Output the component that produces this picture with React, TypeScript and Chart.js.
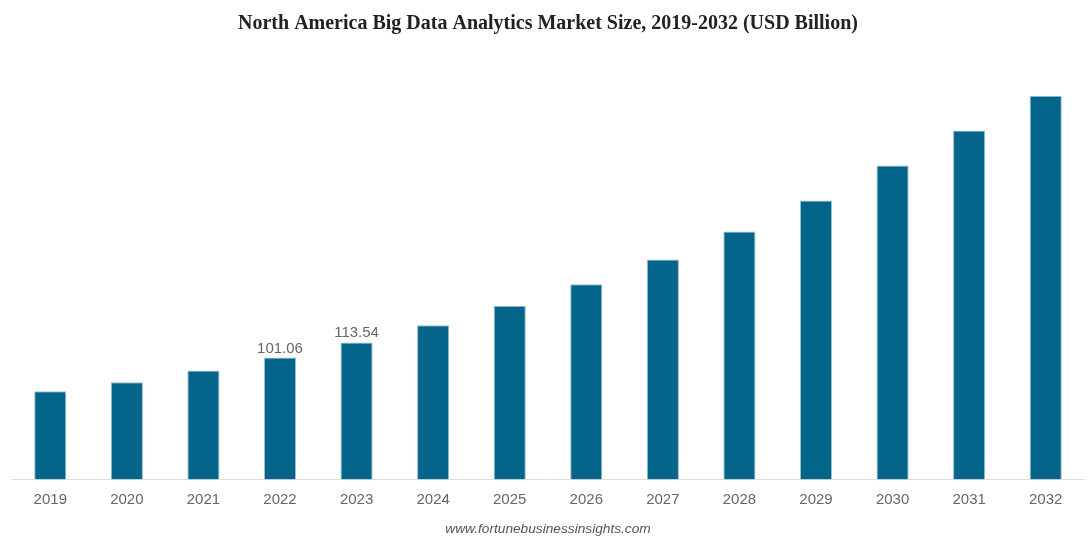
import React, { useEffect, useRef } from "react";
import { Chart, registerables } from "chart.js";

Chart.register(...registerables);

const years = ["2019", "2020", "2021", "2022", "2023", "2024", "2025", "2026", "2027", "2028", "2029", "2030", "2031", "2032"];
const marketSize = [73.2, 80.6, 90.3, 101.06, 113.54, 127.9, 143.9, 161.8, 182.3, 205.5, 231.2, 260.2, 289.2, 317.9];
const labelledYears = ["2022", "2023"];
const titleText = "North America Big Data Analytics Market Size, 2019-2032 (USD Billion)";
const footerText = "www.fortunebusinessinsights.com";

const valueLabels = {
  id: "valueLabels",
  afterDatasetsDraw(chart: any) {
    const ctx = chart.ctx;
    const meta = chart.getDatasetMeta(0);
    ctx.save();
    ctx.font = "15px 'Liberation Sans', Arial, sans-serif";
    ctx.fillStyle = "#666666";
    ctx.textAlign = "center";
    ctx.textBaseline = "alphabetic";
    meta.data.forEach((bar: any, i: number) => {
      if (labelledYears.includes(years[i])) {
        const v = marketSize[i];
        ctx.fillText(v.toFixed(2), bar.x, bar.y - 5);
      }
    });
    ctx.restore();
  },
};

export default function App() {
  const canvasRef = useRef<HTMLCanvasElement | null>(null);

  useEffect(() => {
    document.body.style.margin = "0";
    const canvas = canvasRef.current;
    if (!canvas) return;
    const chart = new Chart(canvas, {
      type: "bar",
      data: {
        labels: years,
        datasets: [
          {
            data: marketSize,
            backgroundColor: "#05648a",
            borderColor: "#9cc0d2",
            borderWidth: 1,
            barPercentage: 0.42,
            categoryPercentage: 1,
          },
        ],
      },
      options: {
        animation: false,
        responsive: false,
        maintainAspectRatio: false,
        layout: { padding: { left: 12, right: 4, top: 0, bottom: 0 } },
        plugins: {
          legend: { display: false },
          tooltip: { enabled: false },
          title: {
            display: true,
            text: titleText,
            color: "#222222",
            font: { family: "'Liberation Serif', 'Times New Roman', serif", size: 20, weight: "bold" },
            padding: { top: 12, bottom: 21 },
          },
          subtitle: {
            display: true,
            position: "bottom",
            text: footerText,
            color: "#555555",
            font: { family: "'Liberation Sans', Arial, sans-serif", size: 13.7, style: "italic" },
            padding: { top: 1, bottom: 6 },
          },
        },
        scales: {
          x: {
            grid: { display: false, drawTicks: false },
            border: { display: true, color: "#dddddd", width: 1 },
            ticks: {
              color: "#666666",
              font: { family: "'Liberation Sans', Arial, sans-serif", size: 15 },
              padding: 11,
              maxRotation: 0,
            },
          },
          y: {
            display: false,
            min: 0,
            max: 350,
          },
        },
      },
      plugins: [valueLabels],
    });
    return () => chart.destroy();
  }, []);

  return (
    <div style={{ width: 1088, height: 543 }}>
      <canvas ref={canvasRef} width={1088} height={543} style={{ display: "block", width: 1088, height: 543 }} />
    </div>
  );
}
